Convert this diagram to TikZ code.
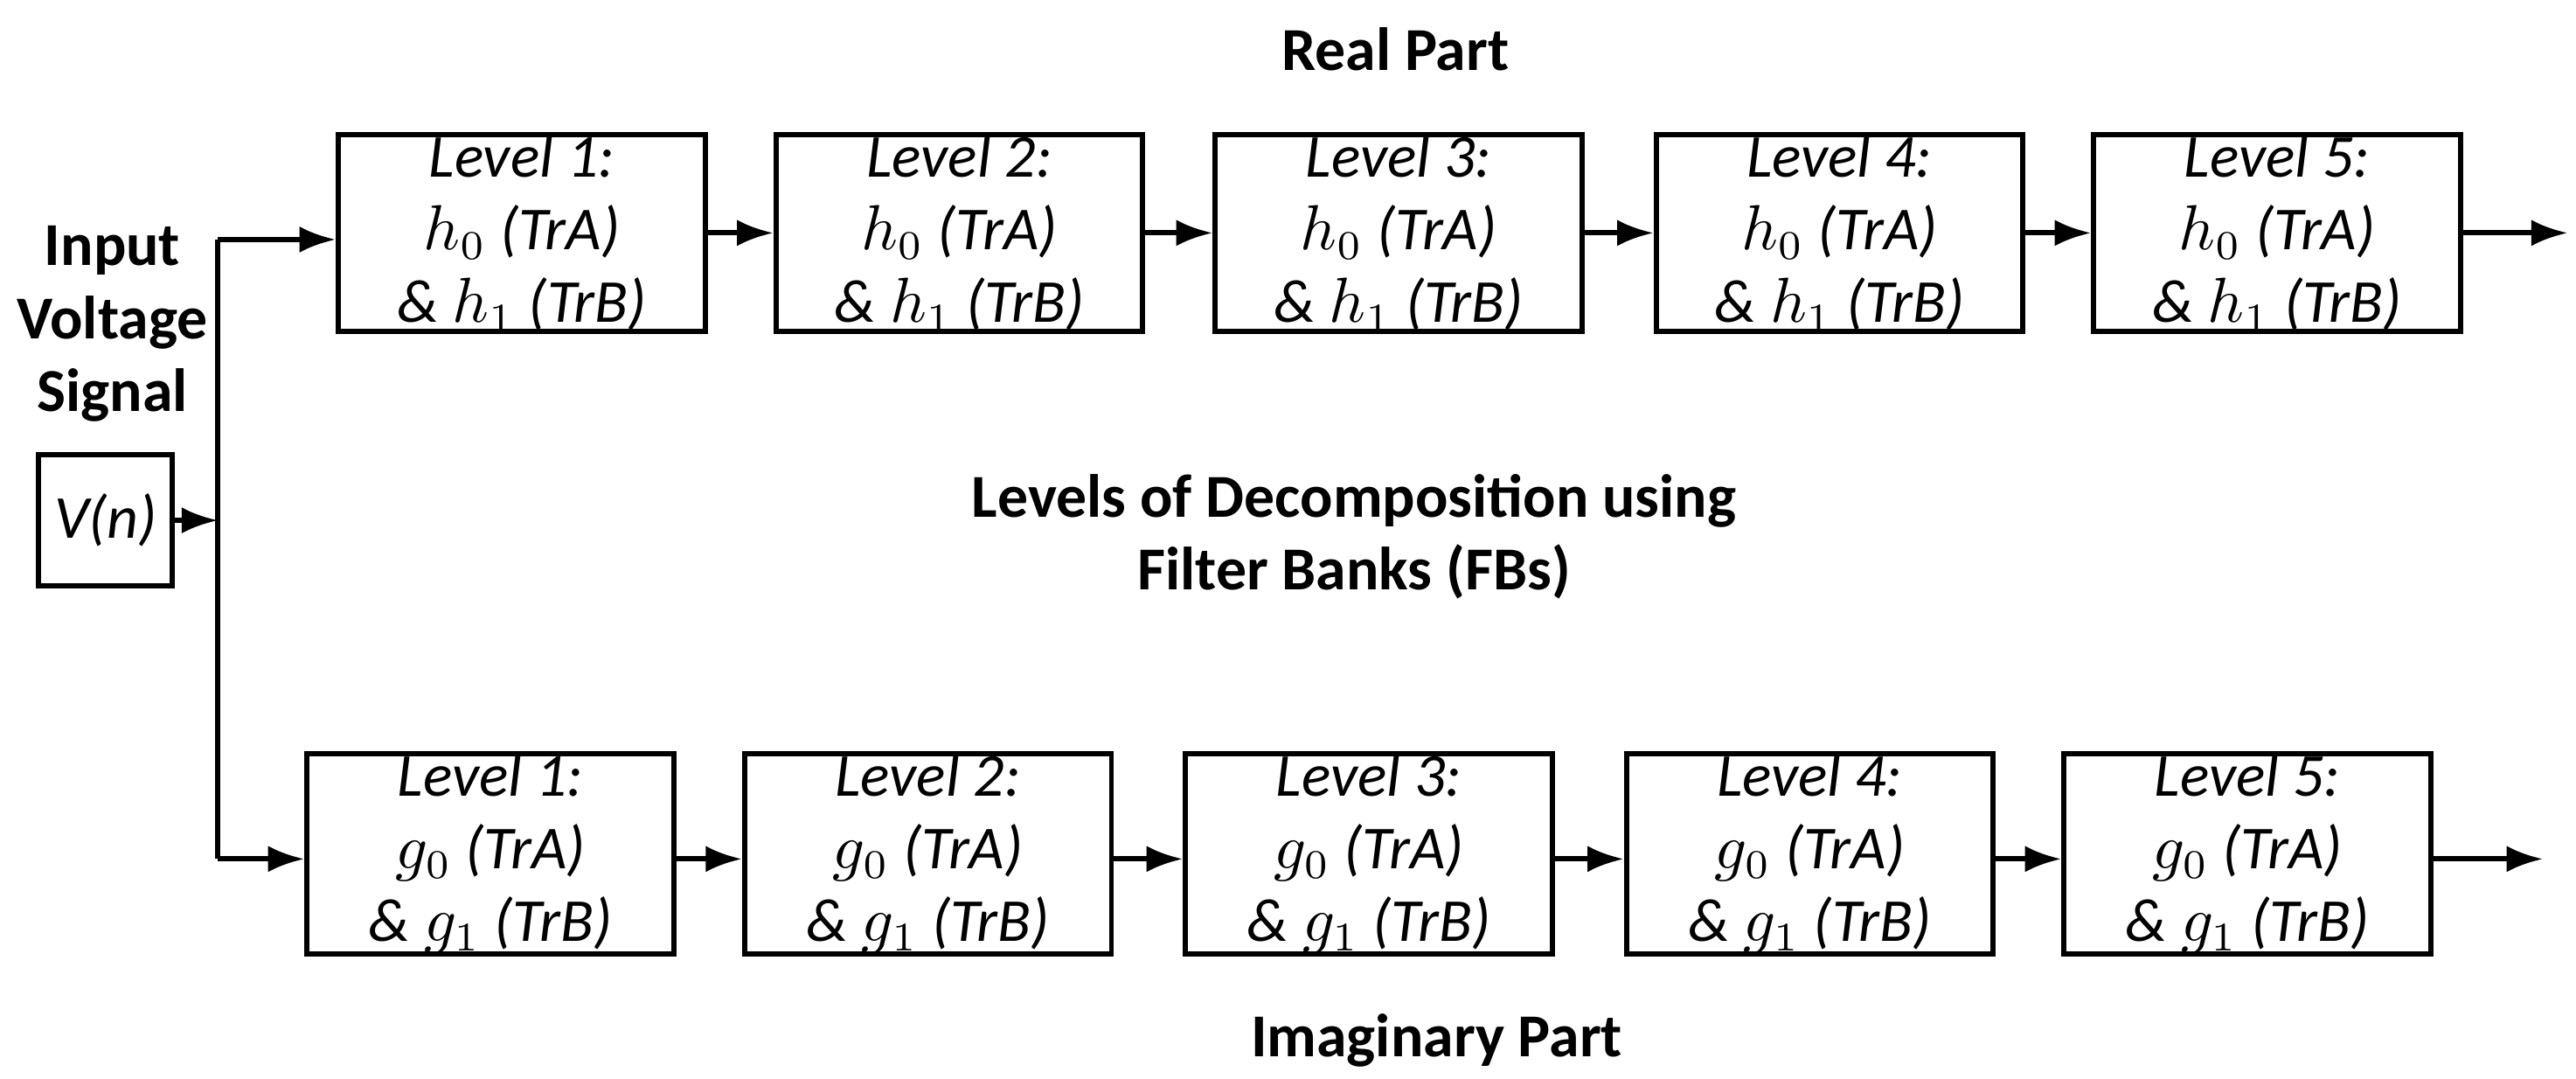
\documentclass[tikz,border=0pt]{standalone}
\usepackage{fontspec}
\setmainfont{Carlito}
\usetikzlibrary{arrows.meta}
\tikzset{
  fb/.style={draw, line width=0.9pt, minimum width=2.22cm, minimum height=1.17cm, inner sep=0pt, align=center, font=\fontsize{10.5}{12.5}\selectfont\itshape},
  lbl/.style={align=center, font=\fontsize{10.5}{12.5}\selectfont\bfseries},
  arr/.style={line width=0.9pt, -{Latex[length=2.2mm,width=1.6mm]}}
}
\begin{document}
\begin{tikzpicture}[x=0.01cm,y=-0.01cm]
        \useasboundingbox (0,0) rectangle (1560,653);
        \node[lbl] (real) at (845,30) {Real Part};
        \node[lbl] (imag) at (870,630) {Imaginary Part};
        \node[lbl] (input) at (68,196) {Input\\Voltage\\Signal};
        \node[lbl] (levels) at (820,325) {Levels of Decomposition using\\Filter Banks (FBs)};
        \node[fb, minimum width=0.81cm, minimum height=0.79cm] (v) at (64,315) {V(n)};

        \node[fb] (h1) at (316,141) {Level 1:\\$h_0$ (TrA)\\\& $h_1$ (TrB)};
        \node[fb] (h2) at (581,141) {Level 2:\\$h_0$ (TrA)\\\& $h_1$ (TrB)};
        \node[fb] (h3) at (847,141) {Level 3:\\$h_0$ (TrA)\\\& $h_1$ (TrB)};
        \node[fb] (h4) at (1114,141) {Level 4:\\$h_0$ (TrA)\\\& $h_1$ (TrB)};
        \node[fb] (h5) at (1379,141) {Level 5:\\$h_0$ (TrA)\\\& $h_1$ (TrB)};
        \node[fb, minimum height=1.2cm] (g1) at (297,517) {Level 1:\\$g_0$ (TrA)\\\& $g_1$ (TrB)};
        \node[fb, minimum height=1.2cm] (g2) at (562,517) {Level 2:\\$g_0$ (TrA)\\\& $g_1$ (TrB)};
        \node[fb, minimum height=1.2cm] (g3) at (829,517) {Level 3:\\$g_0$ (TrA)\\\& $g_1$ (TrB)};
        \node[fb, minimum height=1.2cm] (g4) at (1096,517) {Level 4:\\$g_0$ (TrA)\\\& $g_1$ (TrB)};
        \node[fb, minimum height=1.2cm] (g5) at (1361,517) {Level 5:\\$g_0$ (TrA)\\\& $g_1$ (TrB)};

        \coordinate (split) at (132,315);
        \coordinate (top) at (132,145);
        \coordinate (bot) at (132,520);
        \coordinate (hout) at (1555,141);
        \coordinate (gout) at (1540,520);

        \draw[arr] (v.east) -- (split);
        \draw[line width=0.9pt] (top) -- (bot);
        \draw[arr] (top) -- (h1.west |- top);
        \draw[arr] (bot) -- (g1.west |- bot);
        \draw[arr] (h1) -- (h2);
        \draw[arr] (h2) -- (h3);
        \draw[arr] (h3) -- (h4);
        \draw[arr] (h4) -- (h5);
        \draw[arr] (h5) -- (hout);
        \draw[arr] (g1.east |- bot) -- (g2.west |- bot);
        \draw[arr] (g2.east |- bot) -- (g3.west |- bot);
        \draw[arr] (g3.east |- bot) -- (g4.west |- bot);
        \draw[arr] (g4.east |- bot) -- (g5.west |- bot);
        \draw[arr] (g5.east |- bot) -- (gout);
\end{tikzpicture}
\end{document}
